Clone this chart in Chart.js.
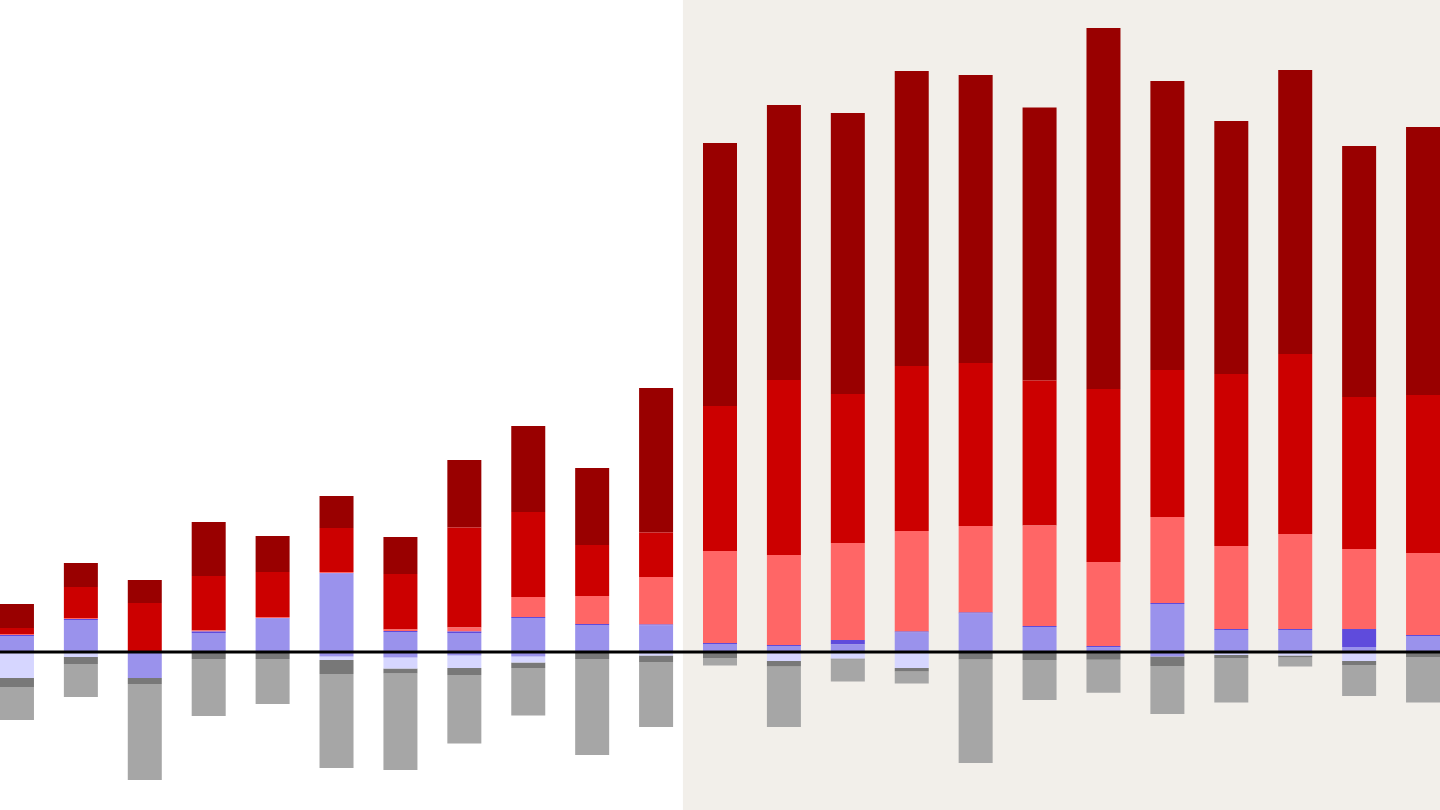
<!DOCTYPE html>
<html>
<head>
<meta charset="utf-8">
<script src="https://cdn.jsdelivr.net/npm/chart.js@4"></script>
<style>
  html, body { margin: 0; padding: 0; background: #ffffff; overflow: hidden; width: 1440px; height: 810px; }
  #wrap { position: absolute; left: -15px; top: 0; width: 1470px; height: 810px; }
</style>
</head>
<body>
<div id="wrap"><canvas id="c"></canvas></div>
<script>
const categories = ["1","2","3","4","5","6","7","8","9","10","11","12","13","14","15","16","17","18","19","20","21","22","23"];

const purple     = [1.6, 3.2, 0,    1.9,  3.35, 7.85, 2.0,  1.9,  3.4,  2.7, 2.65, 0.8, 0.6, 0.75, 1.95, 3.85, 2.5,  0.45, 4.8,  2.2,  2.2,  0.5, 1.6];
const darkPurple = [0.1, 0.1, 0,    0.15, 0.05, 0.05, 0.1,  0.15, 0.1,  0.1, 0.1,  0.1, 0.1, 0.45, 0.1,  0.1,  0.1,  0.15, 0.1,  0.1,  0.1,  1.8, 0.1];
const purple2    = [0,   0,   -2.6, 0,    0,    -0.45,-0.55,-0.35,-0.45,0,   0,    0,   0,   0,    0,    0,    0,    0,    -0.45,0,    0,    0,   0];
const lavender   = [-2.6,-0.5,0,    0,    0,    -0.35,-1.1, -1.25,-0.6, 0,   -0.35,0,   -0.9,-0.65,-1.6, 0,    0,    0,    0,    -0.3, -0.35,-0.9,0];
const darkGray   = [-0.9,-0.7,-0.6, -0.7, -0.7, -1.4, -0.5, -0.7, -0.55,-0.7,-0.65,-0.6,-0.55,-0.1,-0.35,-0.75,-0.8, -0.77,-0.95,-0.3, -0.2, -0.4,-0.5];
const gray       = [-3.3,-3.3,-9.6, -5.7, -4.5, -9.4, -9.65,-6.85,-4.75,-9.6,-6.5, -0.75,-6.05,-2.2,-1.2,-10.35,-4.0,-3.3, -4.8, -4.45,-0.9, -3.1,-4.55];
const lightRed   = [0.1, 0.1, 0,    0.1,  0.1,  0.1,  0.15, 0.4,  2.0,  2.8, 4.75, 9.2, 9.0, 9.7,  10.05,8.65, 10.05,8.4,  8.6,  8.3,  9.5,  8.0, 8.2];
const red        = [0.6, 3.1, 4.9,  5.45, 4.5,  4.4,  5.55, 10.0, 8.5,  5.1, 4.45, 14.5,17.5,14.9, 16.5, 16.3, 14.5, 17.3, 14.7, 17.2, 18.0, 15.2,15.8];
const darkRed    = [2.4, 2.4, 2.3,  5.4,  3.6,  3.2,  3.7,  6.75, 8.6,  7.7, 14.45,26.3,27.5,28.1, 29.5, 28.8, 27.3, 36.1, 28.9, 25.3, 28.4, 25.1,26.8];

const shadeStartIndex = 10.42;
const yMin = -15.8;
const yMax = 65.2;

const series = [
  { label: "purple",      data: purple,     color: "#9a92ec" },
  { label: "darkPurple",  data: darkPurple, color: "#5f4bdc" },
  { label: "purple2",     data: purple2,    color: "#9a92ec" },
  { label: "lavender",    data: lavender,   color: "#d6d6ff" },
  { label: "darkGray",    data: darkGray,   color: "#787878" },
  { label: "gray",        data: gray,       color: "#a6a6a6" },
  { label: "lightRed",    data: lightRed,   color: "#ff6666" },
  { label: "red",         data: red,        color: "#cc0000" },
  { label: "darkRed",     data: darkRed,    color: "#990000" }
];

const shadePlugin = {
  id: "shade",
  beforeDatasetsDraw(chart) {
    const ctx = chart.ctx;
    const x0 = chart.scales.x.getPixelForValue(shadeStartIndex);
    ctx.save();
    ctx.fillStyle = "#f2efea";
    ctx.fillRect(x0, 0, chart.width - x0, chart.height);
    ctx.restore();
  },
  afterDatasetsDraw(chart) {
    const ctx = chart.ctx;
    const y0 = chart.scales.y.getPixelForValue(0);
    ctx.save();
    ctx.strokeStyle = "#000000";
    ctx.lineWidth = 3;
    ctx.beginPath();
    ctx.moveTo(0, y0);
    ctx.lineTo(chart.width, y0);
    ctx.stroke();
    ctx.restore();
  }
};

new Chart(document.getElementById("c"), {
  type: "bar",
  data: {
    labels: categories,
    datasets: series.map(s => ({
      label: s.label,
      data: s.data,
      backgroundColor: s.color,
      borderWidth: 0,
      categoryPercentage: 1.0,
      barPercentage: 0.532
    }))
  },
  options: {
    responsive: true,
    maintainAspectRatio: false,
    animation: false,
    layout: { padding: 0 },
    plugins: { legend: { display: false }, tooltip: { enabled: false } },
    scales: {
      x: { stacked: true, display: false, offset: true, grid: { display: false } },
      y: { stacked: true, display: false, min: yMin, max: yMax, grid: { display: false } }
    }
  },
  plugins: [shadePlugin]
});
</script>
</body>
</html>
